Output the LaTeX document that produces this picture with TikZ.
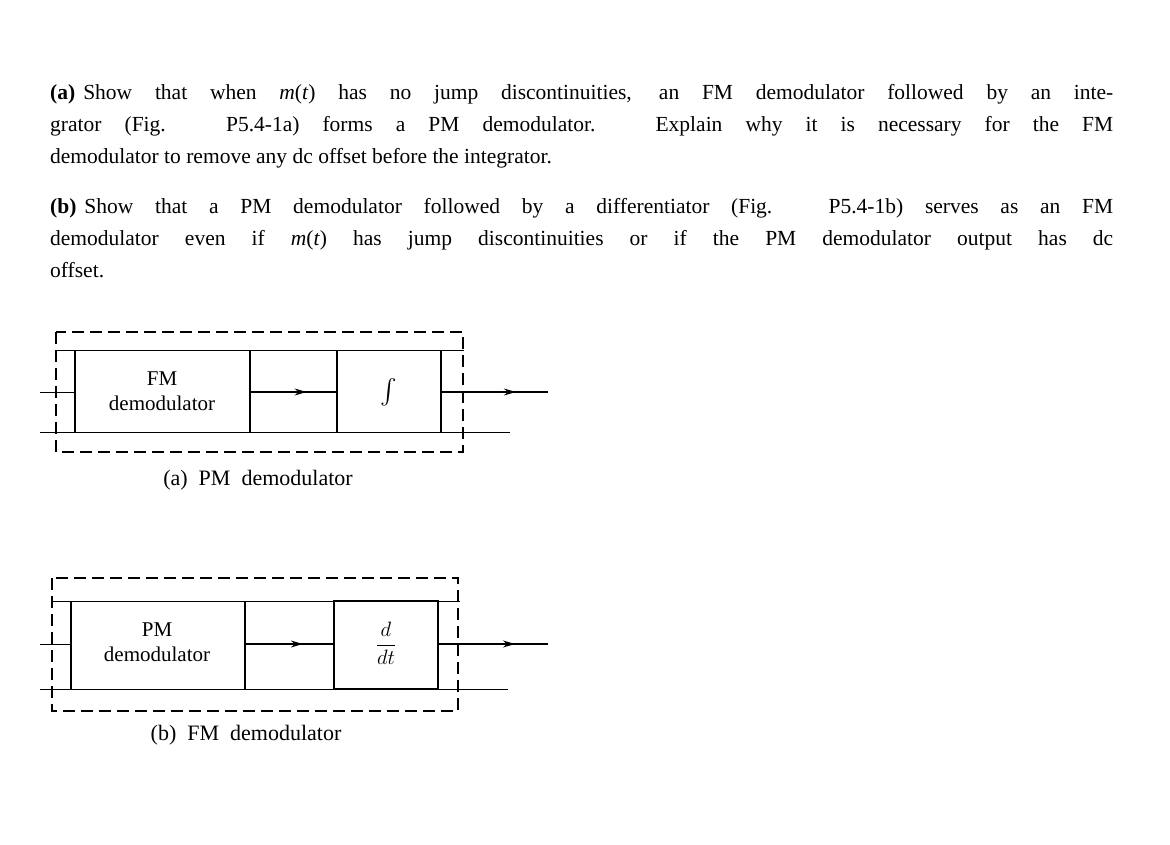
\documentclass[tikz,border=0pt]{standalone}
\usepackage{fontspec}
\usepackage{amsmath}
\usetikzlibrary{arrows.meta,decorations.markings}
\setmainfont{Liberation Serif}
\begin{document}
\begin{tikzpicture}[x=1pt,y=-1pt,
  thin line/.style={line width=0.8pt},
  bar/.style={line width=2.2pt},
  dash box/.style={line width=1.2pt,dash pattern=on 12pt off 6pt},
  sig/.style={line width=1.2pt,postaction={decorate},decoration={markings,mark=at position #1 with {\arrow{Stealth[length=12pt,width=7pt]}}}},
  lbl/.style={font=\fontsize{21}{25}\selectfont,align=center},
  captext/.style={font=\fontsize{22}{26}\selectfont}]
\useasboundingbox (0,0) rectangle (1170,845);
\node[anchor=north west,inner sep=0pt,text width=1063pt,align=justify,font=\fontsize{21.5}{32}\selectfont] (ta) at (50,84)
 {\hangindent=43pt\hangafter=1 \textbf{(a)}\hspace{8pt}Show that when \textit{m}(\textit{t}) has no jump discontinuities, an FM demodulator followed by an inte-\linebreak grator (Fig. P5.4-1a) forms a PM demodulator. Explain why it is necessary for the FM\linebreak demodulator to remove any dc offset before the integrator.};
\node[anchor=north west,inner sep=0pt,text width=1063pt,align=justify,font=\fontsize{21.5}{32}\selectfont] (tb) at (50,198)
 {\hangindent=43pt\hangafter=1 \textbf{(b)}\hspace{8pt}Show that a PM demodulator followed by a differentiator (Fig. P5.4-1b) serves as an FM\linebreak demodulator even if \textit{m}(\textit{t}) has jump discontinuities or if the PM demodulator output has dc\linebreak offset.};
% ---- (a)
\coordinate (a1) at (75,392); \coordinate (a2) at (250,392);
\coordinate (a3) at (337,392); \coordinate (a4) at (441,392);
\coordinate (ain) at (40,392); \coordinate (aout) at (548,392);
\draw[dash box] (56,332) rectangle (463,452);
\draw[thin line] (55,350) -- (464,350);
\draw[thin line] (40,432) -- (510,432);
\foreach \x in {75,250,337,441} \draw[bar] (\x,350) -- (\x,432);
\draw[thin line] (ain) -- (a1);
\draw[sig=0.65] (a2) -- (a3);
\draw[sig=0.7] (a4) -- (aout);
\node[lbl] (fm) at (162,391) {FM\\demodulator};
\node[font=\fontsize{34}{34}\selectfont] (int) at (389,392) {$\int$};
\node[captext] (capa) at (258,480) {(a)\ \ PM\ \ demodulator};
% ---- (b)
\coordinate (b1) at (71,644); \coordinate (b2) at (245,644);
\coordinate (b3) at (334,644); \coordinate (b4) at (438,644);
\coordinate (bin) at (40,644); \coordinate (bout) at (548,644);
\draw[dash box] (52,578) rectangle (458,711);
\draw[thin line] (52,601) -- (460,601);
\draw[thin line] (40,689) -- (508,689);
\foreach \x in {71,245} \draw[bar] (\x,601) -- (\x,689);
\draw[bar] (334,601) rectangle (438,689);
\draw[thin line] (bin) -- (b1);
\draw[sig=0.65] (b2) -- (b3);
\draw[sig=0.7] (b4) -- (bout);
\node[lbl] (pm) at (157,642) {PM\\demodulator};
\node[font=\fontsize{22}{22}\selectfont] (ddt) at (386,643) {$\dfrac{d}{dt}$};
\node[captext] (capb) at (246,735) {(b)\ \ FM\ \ demodulator};
\end{tikzpicture}
\end{document}
